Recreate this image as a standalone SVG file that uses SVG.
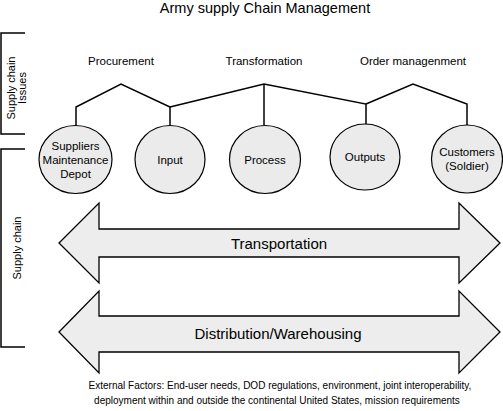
<svg xmlns="http://www.w3.org/2000/svg" width="503" height="411" viewBox="0 0 503 411">
<style>
text{font-family:"Liberation Sans",Arial,sans-serif;fill:#000;text-anchor:middle;dominant-baseline:central}
.t{font-size:14.5px}
.s{font-size:11.5px}
.v{font-size:11px}
.c{font-size:11.5px}
.b{font-size:15px}
.f{font-size:10px}
.node ellipse{fill:#ebebeb;stroke:#000;stroke-width:1.2}
.ln{fill:none;stroke:#000;stroke-width:1.5}
.arr{fill:#ededed;stroke:#000;stroke-width:1.3;stroke-linejoin:miter}
</style>
<text class="t" x="265" y="8">Army supply Chain Management</text>
<g id="brackets">
<path class="ln" d="M25,33 H1 V134 H25"/>
<path class="ln" d="M25,149 H1 V347 H25"/>
<text class="v" transform="translate(11,88) rotate(-90)">Supply chain</text>
<text class="v" transform="translate(22,88) rotate(-90)">Issues</text>
<text class="v" transform="translate(17,248) rotate(-90)">Supply chain</text>
</g>
<g id="issues">
<text class="s" x="121" y="61">Procurement</text>
<text class="s" x="264" y="61">Transformation</text>
<text class="s" x="413" y="61">Order managenment</text>
</g>
<g id="connectors">
<path class="ln" d="M76,125 V107 L121,84 L170,107 V125"/>
<path class="ln" d="M170,107 L264,84 L366,104 V125"/>
<path class="ln" d="M264,84 V125"/>
<path class="ln" d="M366,104 L413,84 L467,104 V125"/>
</g>
<g id="n1" class="node"><ellipse cx="75.5" cy="159.5" rx="36.5" ry="34"/>
<text class="c" x="75.5" y="146">Suppliers</text><text class="c" x="75.5" y="160">Maintenance</text><text class="c" x="75.5" y="174">Depot</text></g>
<g id="n2" class="node"><ellipse cx="170" cy="159.5" rx="35" ry="34"/><text class="c" x="170" y="160">Input</text></g>
<g id="n3" class="node"><ellipse cx="265" cy="159.5" rx="35.5" ry="34"/><text class="c" x="265" y="160">Process</text></g>
<g id="n4" class="node"><ellipse cx="365" cy="157" rx="35" ry="33"/><text class="c" x="365" y="157">Outputs</text></g>
<g id="n5" class="node"><ellipse cx="467" cy="159" rx="35.5" ry="34"/><text class="c" x="467" y="152">Customers</text><text class="c" x="467" y="166">(Soldier)</text></g>
<g id="transportation">
<path class="arr" d="M59,243 L99,203 V229 H459 V203 L500,243 L459,283 V257 H99 V283 Z"/>
<text class="b" x="279" y="243">Transportation</text>
</g>
<g id="distribution">
<path class="arr" d="M59,332 L99,291 V316 H459 V291 L500,332 L459,373 V352 H99 V373 Z"/>
<text class="b" x="278" y="333">Distribution/Warehousing</text>
</g>
<text class="f" x="280" y="385">External Factors: End-user needs, DOD regulations, environment, joint interoperability,</text>
<text class="f" x="277" y="400">deployment within and outside the continental United States, mission requirements</text>
</svg>
